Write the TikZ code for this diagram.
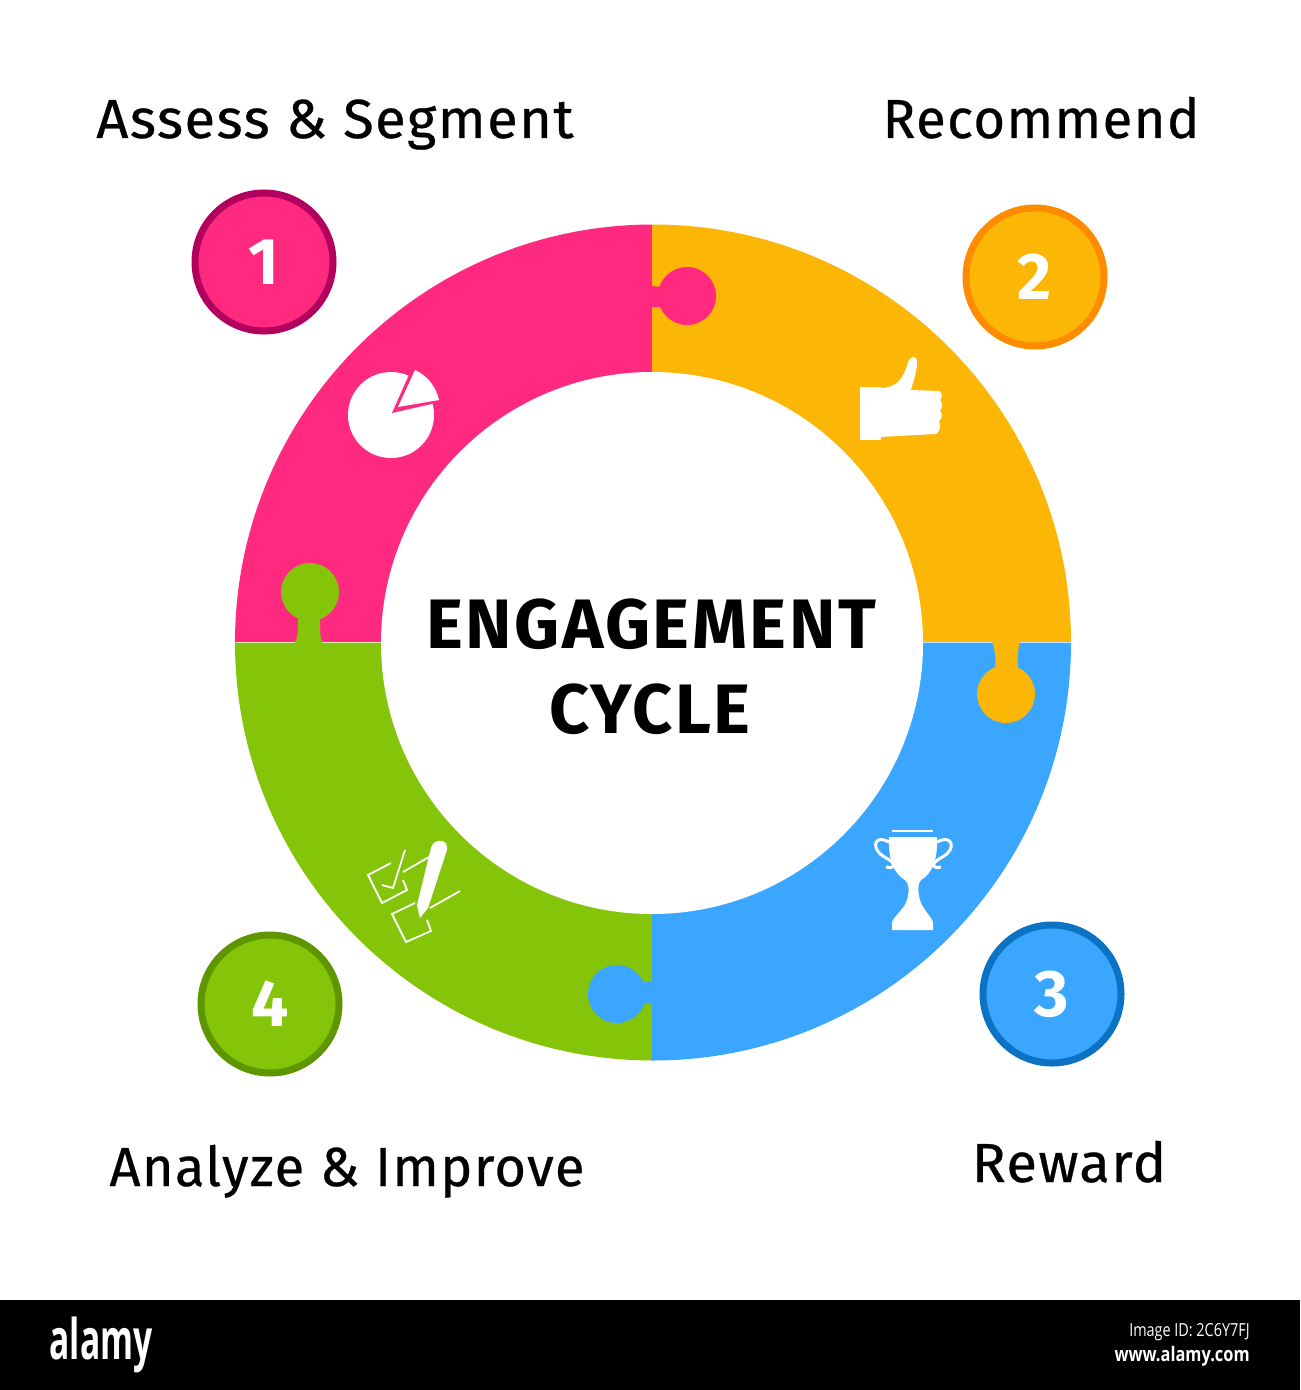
\documentclass[tikz,border=0pt]{standalone}
\usepackage{fontspec}
\setmainfont{Fira Sans}
\newfontfamily\spacedfont[LetterSpace=2.5,RawFeature={embolden=0.5}]{Fira Sans}
\newfontfamily\boldfont[LetterSpace=3.6]{Fira Sans}
\newfontfamily\wmfont{Open Sans}
\definecolor{pinkc}{HTML}{FF2A7F}
\definecolor{pinkd}{HTML}{B3005E}
\definecolor{orangec}{HTML}{FBB606}
\definecolor{oranged}{HTML}{FF8C00}
\definecolor{bluec}{HTML}{3BA6FF}
\definecolor{blued}{HTML}{0B72C4}
\definecolor{greenc}{HTML}{84C50A}
\definecolor{greend}{HTML}{5F9600}
\tikzset{
  numdisc/.style={circle,draw=#1,line width=3.5pt,minimum size=69pt,inner sep=0pt,text=white,font=\fontsize{33}{33}\selectfont\bfseries},
  steplabel/.style={text=black,inner sep=0pt,anchor=base,font=\spacedfont\fontsize{27.5}{30}\selectfont},
  titlelabel/.style={text=black,inner sep=0pt,anchor=base,font=\boldfont\bfseries\fontsize{35}{40}\selectfont},
  iconline/.style={draw=white,line width=.9pt,fill=none},
  seamline/.style={draw=white!70!#1,line width=.5pt}
}
\begin{document}
\begin{tikzpicture}[x=.5pt,y=-.5pt]
\useasboundingbox (0,0) rectangle (1300,1390);
\fill[white] (0,0) rectangle (1300,1300);
\fill[black] (0,1300) rectangle (1300,1390);
% ring quadrants
\begin{scope}
  \clip (653,642.5) circle[radius=418];
  \fill[pinkc] (200,200) rectangle (652,642);
  \fill[orangec] (652,200) rectangle (1100,642);
  \fill[bluec] (652,642) rectangle (1100,1100);
  \fill[greenc] (200,642) rectangle (652,1100);
  \draw[seamline=greenc] (236,642.5) -- (381,642.5);
  \draw[seamline=bluec] (923,642.5) -- (1071,642.5);
\end{scope}
% puzzle tabs
\fill[pinkc] (651,286) .. controls (658,287) and (662,287) .. (668,284) -- (690,296) -- (668,309) .. controls (662,307) and (658,307) .. (651,307) -- cycle;
\fill[pinkc] (687,296) circle[radius=29];
\fill[orangec] (992,641) .. controls (995,650) and (996,658) .. (995,668) -- (1006,690) -- (1018,668) .. controls (1017,658) and (1018,650) .. (1020,641) -- cycle;
\fill[orangec] (1006,694) circle[radius=29];
\fill[bluec] (653,982) .. controls (647,982) and (642,982) .. (636,979) -- (620,994) -- (636,1008) .. controls (642,1004) and (647,1003) .. (653,1003) -- cycle;
\fill[bluec] (617,994) circle[radius=29];
\fill[greenc] (295,643) .. controls (298,635) .. (298,620) -- (310,595) -- (320,620) .. controls (320,635) .. (322,643) -- cycle;
\fill[greenc] (310,592) circle[radius=29];
% centre
\fill[white] (652,643) circle[radius=271];
% pie icon
\fill[white] (391,415) circle[radius=43];
\fill[pinkc] (392,413) -- (412,368) -- (440,372) -- (440,402) -- cycle;
\fill[white] (398,407) -- (415,370) .. controls (428,376) and (436,387) .. (439,400) -- cycle;
% thumb icon
\fill[white] (860,387) rectangle (880.5,440);
\fill[white] (880,388) .. controls (897,388) and (904,378) .. (908,362) .. controls (910,356) and (917,355) .. (917,362) .. controls (917,372) and (913,382) .. (911,390) -- (939,391) .. controls (943,393) and (942,398) .. (940,400) .. controls (943,403) and (943,408) .. (940,410) .. controls (943,414) and (942,419) .. (939,421) .. controls (941,425) and (940,432) .. (936,434) -- (880,437) -- cycle;
% trophy icon
\fill[white] (892,829.5) rectangle (933,832);
\fill[white] (889,837) -- (937,837) .. controls (938,862) and (931,874) .. (921,880) .. controls (917,884) and (918,892) .. (920,900) .. controls (922,908) and (930,915) .. (933,922) -- (933,930) -- (892,930) -- (892,922) .. controls (895,915) and (905,908) .. (907,900) .. controls (909,892) and (910,884) .. (905,880) .. controls (895,874) and (888,862) .. (889,837) -- cycle;
\draw[iconline,line width=1.5pt] (889,842) .. controls (878,836) and (873,842) .. (877,850) .. controls (880,856) and (888,858) .. (892,862) .. controls (896,866) and (892,869) .. (886,867);
\draw[iconline,line width=1.5pt] (937,842) .. controls (948,836) and (954,842) .. (950,850) .. controls (947,856) and (939,858) .. (935,862) .. controls (931,866) and (935,869) .. (941,867);
% checklist icon
\draw[iconline] (391,863) -- (368,875) -- (382,903) -- (407,890) -- (403,880);
\draw[iconline] (382,885) -- (393,888) -- (405,850);
\draw[iconline] (403,872) -- (429,857);
\draw[iconline] (415,903) -- (392,914) -- (406,942) -- (431,931) -- (427,920);
\draw[iconline] (430,908) -- (460,891);
\fill[white] (420,918) -- (417,905) -- (431,848) .. controls (433,838) and (449,838) .. (447,850) -- (428,908) -- cycle;
% number discs
\node[numdisc=pinkd,fill=pinkc] (n1) at (264,262) {1};
\node[numdisc=oranged,fill=orangec] (n2) at (1035,277) {2};
\node[numdisc=blued,fill=bluec] (n3) at (1052,994) {3};
\node[numdisc=greend,fill=greenc] (n4) at (270,1004) {4};
% labels
\node[steplabel] (l1) at (335,138) {\scalebox{1.02}[1]{Assess \& Segment}};
\node[steplabel] (l2) at (1041,138) {\scalebox{.99}[1]{Recommend}};
\node[steplabel] (l3) at (1069,1182) {\scalebox{1.02}[1]{Reward}};
\node[steplabel] (l4) at (347,1186) {\scalebox{.985}[1]{Analyze \& Improve}};
\node[titlelabel] (t1) at (651,648) {ENGAGEMENT};
\node[titlelabel] (t2) at (650,733) {CYCLE};
% footer
\node[text=white,inner sep=0pt,font=\wmfont\bfseries\fontsize{28}{30}\selectfont] (logo) at (101,1345) {\scalebox{.6}[1]{alamy}};
\node[text=white,inner sep=0pt,anchor=east,font=\wmfont\fontsize{9}{10}\selectfont] (idtext) at (1250,1332) {\scalebox{.8}[1]{Image ID: 2C6Y7FJ}};
\node[text=white,inner sep=0pt,anchor=east,font=\wmfont\bfseries\fontsize{10}{11}\selectfont] (wwwtext) at (1250,1356) {\scalebox{.82}[1]{www.alamy.com}};
\end{tikzpicture}
\end{document}
